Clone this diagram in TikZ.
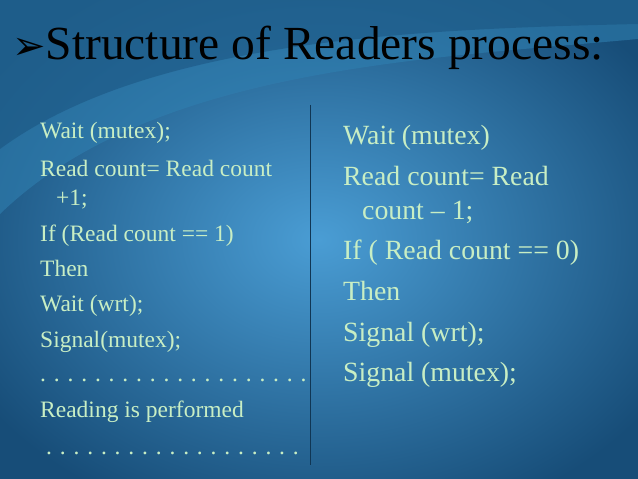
\documentclass[tikz,border=0pt]{standalone}
\usepackage{fontspec}
\setmainfont{Liberation Serif}
\newfontfamily\symfont{DejaVu Sans}
\definecolor{txt}{HTML}{C8EEC4}
\definecolor{bgedge}{HTML}{174D78}
\definecolor{bgmid}{HTML}{4A9DD4}
\definecolor{topband}{HTML}{2F7FB0}
\begin{document}
\begin{tikzpicture}[x=1pt,y=1pt,
  lt/.style={anchor=base west,text=txt,font=\fontsize{23.5}{25}\selectfont,inner sep=0},
  rt/.style={anchor=base west,text=txt,font=\fontsize{27.8}{30}\selectfont,inner sep=0}]
\useasboundingbox (0,0) rectangle (638,479);
\shade[inner color=bgmid,outer color=bgedge] (-80,-60) rectangle (718,539);
\fill[topband,opacity=0.6] (0,479) -- (638,479) -- (638,440) .. controls (420,420) and (150,410) .. (0,265) -- cycle;
\fill[bgedge,opacity=0.45] (0,479) -- (638,479) -- (638,455) .. controls (420,450) and (150,440) .. (0,330) -- cycle;
\node[anchor=base west,inner sep=0,font=\fontsize{47.5}{50}\selectfont] (title) at (12,419) {{\symfont\fontsize{40}{40}\selectfont ➢}Structure of Readers process:};
\coordinate (ltop) at (310,374);
\coordinate (lbot) at (310,14);
\draw[bgedge!70!black,line width=0.8] (ltop) -- (lbot);
\node[lt] (l1) at (40,340) {Wait (mutex);};
\node[lt] (l2) at (40,302) {Read count= Read count};
\node[lt] (l3) at (56,273) {+1;};
\node[lt] (l4) at (40,237) {If (Read count == 1)};
\node[lt] (l5) at (40,202) {Then};
\node[lt] (l6) at (40,167) {Wait (wrt);};
\node[lt] (l7) at (40,131) {Signal(mutex);};
\node[lt] (l8) at (40,97) {. . . . . . . . . . . . . . . . . . . .};
\node[lt] (l9) at (40,61) {Reading is performed};
\node[lt] (l10) at (46,24) {. . . . . . . . . . . . . . . . . . .};
\node[rt] (r1) at (343,334) {Wait (mutex)};
\node[rt] (r2) at (343,293) {Read count= Read};
\node[rt] (r3) at (362,259) {count -- 1;};
\node[rt] (r4) at (343,219) {If ( Read count == 0)};
\node[rt] (r5) at (343,178) {Then};
\node[rt] (r6) at (343,137) {Signal (wrt);};
\node[rt] (r7) at (343,97) {Signal (mutex);};
\end{tikzpicture}
\end{document}
